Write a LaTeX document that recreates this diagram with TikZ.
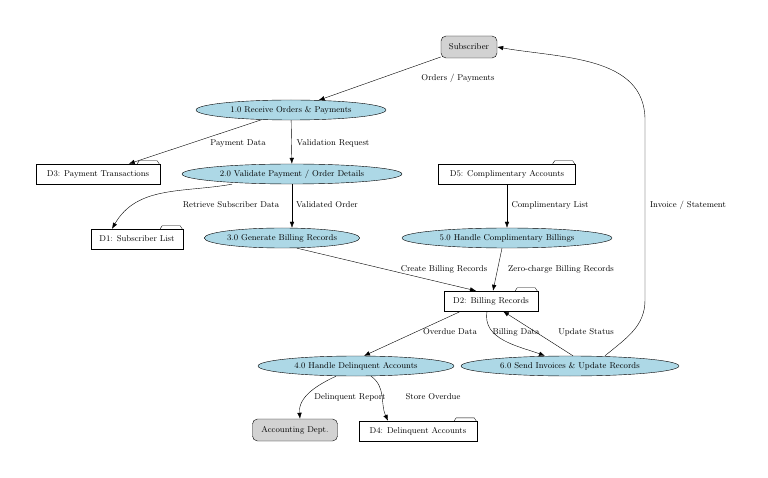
\documentclass[tikz,border=0pt]{standalone}
\usetikzlibrary{shapes.geometric,arrows.meta}
\definecolor{procblue}{RGB}{173,216,230}
\tikzset{
  proc/.style={ellipse, draw, fill=procblue, inner sep=0pt, minimum height=20pt},
  store/.style={rectangle, draw, fill=white, minimum height=20pt, inner sep=0pt},
  ext/.style={rectangle, rounded corners=5pt, draw, fill=gray!35, minimum height=22pt, inner sep=0pt},
  flow/.style={-{Latex[length=6pt,width=4.5pt]}, thin},
  lbl/.style={inner sep=1pt}
}
\begin{document}
\begin{tikzpicture}[x=1pt, y=-1pt, font=\fontsize{8.5}{10}\selectfont]
  \useasboundingbox (0,0) rectangle (768,478);
  % externals
  \node[ext, minimum width=56pt] (sub) at (469,47) {Subscriber};
  \node[ext, minimum width=85pt] (acct) at (295,430) {Accounting Dept.};
  % processes
  \node[proc, minimum width=190pt] (p1) at (291,110) {1.0 Receive Orders \& Payments};
  \node[proc, minimum width=220pt] (p2) at (292,174) {2.0 Validate Payment / Order Details};
  \node[proc, minimum width=152pt] (p3) at (282,238) {3.0 Generate Billing Records};
  \node[proc, minimum width=210pt] (p5) at (507,238) {5.0 Handle Complimentary Billings};
  \node[proc, minimum width=196pt] (p4) at (356,366) {4.0 Handle Delinquent Accounts};
  \node[proc, minimum width=218pt] (p6) at (570,366) {6.0 Send Invoices \& Update Records};
  % data stores
  \node[store, minimum width=124pt] (d3) at (98,174) {D3: Payment Transactions};
  \node[store, minimum width=137pt] (d5) at (507,174) {D5: Complimentary Accounts};
  \node[store, minimum width=92pt] (d1) at (137,239) {D1: Subscriber List};
  \node[store, minimum width=94pt] (d2) at (491,301) {D2: Billing Records};
  \node[store, minimum width=118pt] (d4) at (418,431) {D4: Delinquent Accounts};
  \foreach \n in {d1,d2,d3,d4,d5}
    \draw ([xshift=-23pt]\n.north east) -- ++(2,-3) -- ++(18,0) -- ++(2,3);
  \coordinate (bend) at (645,300);

  % flows
  \draw[flow] (sub) -- (p1);
  \draw[flow] (p1) -- (d3);
  \draw[flow] (p1) -- (p2);
  \draw[flow] ([xshift=-60pt]p2.south) to[out=190,in=60] ([xshift=-25pt]d1.north);
  \draw[flow] (p2.south) -- (p2.south|-p3.north);
  \draw[flow] (d5) -- (p5);
  \draw[flow] ([xshift=15pt]p3.south) -- ([xshift=-15pt]d2.north);
  \draw[flow] ([xshift=-5pt]p5.south) -- ([xshift=2pt]d2.north);
  \draw[flow] ([xshift=-30pt]d2.south) -- ([xshift=8pt]p4.north);
  \draw[flow] ([xshift=-4pt]d2.south) to[out=260,in=160] ([xshift=-25pt]p6.north);
  \draw[flow] ([xshift=3pt]p6.north) -- ([xshift=12pt]d2.south);
  \draw[flow] ([xshift=35pt]p6.north) to[out=40,in=270] (bend) -- (645,120) to[out=90,in=-10] (sub.east);
  \draw[flow] ([xshift=-20pt]p4.south) to[out=205,in=95] ([xshift=5pt]acct.north);
  \draw[flow] ([xshift=15pt]p4.south) to[out=-35,in=115] ([xshift=-30pt]d4.north);

  % flow labels
  \node[lbl] (l1) at (458,78) {Orders / Payments};
  \node[lbl] (l2) at (238,143) {Payment Data};
  \node[lbl] (l3) at (333,143) {Validation Request};
  \node[lbl] (l4) at (231,205) {Retrieve Subscriber Data};
  \node[lbl] (l5) at (327,205) {Validated Order};
  \node[lbl] (l6) at (550,205) {Complimentary List};
  \node[lbl] (l7) at (444,269) {Create Billing Records};
  \node[lbl] (l8) at (561,269) {Zero-charge Billing Records};
  \node[lbl] (l9) at (450,332) {Overdue Data};
  \node[lbl] (l10) at (516,332) {Billing Data};
  \node[lbl] (l11) at (586,332) {Update Status};
  \node[lbl] (l12) at (688,205) {Invoice / Statement};
  \node[lbl] (l13) at (350,397) {Delinquent Report};
  \node[lbl] (l14) at (433,397) {Store Overdue};
\end{tikzpicture}
\end{document}
